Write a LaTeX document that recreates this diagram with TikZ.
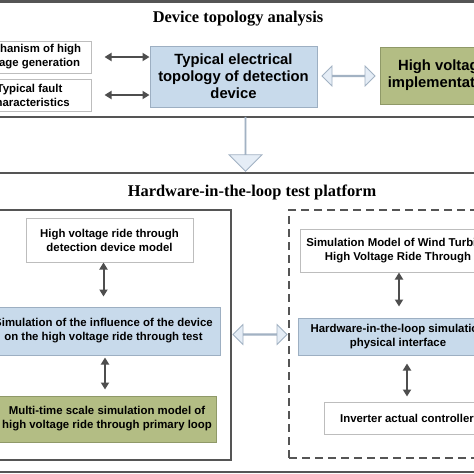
\documentclass[tikz,border=0pt]{standalone}
\usepackage{fontspec}
\setmainfont{Liberation Sans}
\newfontfamily\titlefont{Liberation Serif}
\usetikzlibrary{arrows.meta,shapes.arrows,calc}
\definecolor{framegray}{HTML}{555555}
\definecolor{boxgray}{HTML}{BDBDBD}
\definecolor{bluefill}{HTML}{C8DAEB}
\definecolor{blueline}{HTML}{9DAFC2}
\definecolor{greenfill}{HTML}{B3BD84}
\definecolor{greenline}{HTML}{8F9968}
\definecolor{arrowgray}{HTML}{4E4E4E}
\definecolor{hollowfill}{HTML}{E5EDF6}
\definecolor{hollowline}{HTML}{A2B2C3}

\begin{document}
\begin{tikzpicture}[x=1pt,y=-1pt,
  panel/.style={draw=framegray, line width=2.5pt, inner sep=0pt},
  frame/.style={draw=framegray, line width=1.4pt, inner sep=0pt},
  box/.style={draw=boxgray, line width=1pt, fill=white, align=center, inner sep=0pt,
    font=\bfseries\fontsize{11.4}{14}\selectfont},
  bigbox/.style={box, font=\bfseries\fontsize{14.8}{17}\selectfont},
  bluebox/.style={draw=blueline, fill=bluefill},
  greenbox/.style={draw=greenline, fill=greenfill},
  link/.style={arrowgray, line width=2pt, {Triangle[length=7pt,width=8pt]}-{Triangle[length=7pt,width=8pt]}},
  hollow/.style={draw=hollowline, fill=hollowfill, line width=0.8pt, inner sep=0pt},
  heading/.style={font=\titlefont\bfseries\fontsize{16.4}{18}\selectfont}]
\useasboundingbox (0,0) rectangle (474,474);
\fill[white] (0,0) rectangle (474,474);
\clip (0,0) rectangle (474,474);

% device topology analysis
\node[panel, minimum width=494pt, minimum height=115.5pt] (toppanel) at (237,59.25){};
\node[heading] (toptitle) at (238,19){Device topology analysis};
\node[box, minimum width=123pt, minimum height=32pt] (mech) at (29.5,57){Mechanism of high\\voltage generation};
\node[box, minimum width=123pt, minimum height=32pt] (fault) at (29.5,95){Typical fault\\characteristics};
\node[bigbox, bluebox, minimum width=167pt, minimum height=61pt] (topo) at (233.5,76.5){Typical electrical\\topology of detection\\device};
\node[bigbox, greenbox, minimum width=125pt, minimum height=57pt] (impl) at (442.5,75.5){High voltage\\implementation};
\draw[link] ([xshift=13pt]mech.east) -- (mech.east -| topo.west);
\draw[link] ([xshift=13pt]fault.east) -- (fault.east -| topo.west);
\node[hollow, double arrow, double arrow head extend=6pt, minimum width=20pt, minimum height=53pt] (topoimpl) at ($(topo.east)!0.5!(impl.west)$){};

% down arrow
\node[hollow, single arrow, shape border rotate=270, single arrow head extend=11pt, minimum width=33pt, minimum height=54pt] (down) at (245.5,144){};

% hardware-in-the-loop test platform
\node[panel, minimum width=494pt, minimum height=299pt] (hilpanel) at (237,322.5){};
\node[heading] (hiltitle) at (252,192){Hardware-in-the-loop test platform};
\node[frame, minimum width=251pt, minimum height=250pt] (simframe) at (105.5,335){};
\node[frame, dash pattern=on 8pt off 5pt, minimum width=211pt, minimum height=248pt] (hwframe) at (394.5,334){};

\node[box, minimum width=167pt, minimum height=44pt] (model) at (109.5,240){High voltage ride through\\detection device model};
\node[box, bluebox, minimum width=233pt, minimum height=48pt] (influence) at (103.5,331){Simulation of the influence of the device\\on the high voltage ride through test};
\node[box, greenbox, minimum width=218pt, minimum height=46pt] (multi) at (107,419){Multi-time scale simulation model of\\high voltage ride through primary loop};
\draw[link] (model.south -| influence.north) -- ([yshift=10pt]influence.north);
\draw[link] ([xshift=1.5pt,yshift=-2pt]influence.south) -- ([xshift=1.5pt,yshift=6pt]multi.north -| influence.south);

\node[box, minimum width=196pt, minimum height=43pt] (turbine) at (398,250.5){Simulation Model of Wind Turbine\\High Voltage Ride Through};
\node[box, bluebox, minimum width=200pt, minimum height=37pt] (hil) at (398,336.5){Hardware-in-the-loop simulation\\physical interface};
\node[box, minimum width=166pt, minimum height=32pt] (inverter) at (407,418){Inverter actual controller};
\draw[link] ([xshift=1pt]turbine.south) -- ([xshift=1pt,yshift=11pt]hil.north);
\draw[link] ([yshift=-8pt]hil.south -| inverter.north) -- ([yshift=5pt]inverter.north);

\node[hollow, double arrow, double arrow head extend=6pt, minimum width=20pt, minimum height=54pt] (simhw) at ($(simframe.east)!0.5!(hwframe.west)$){};

\end{tikzpicture}
\end{document}
